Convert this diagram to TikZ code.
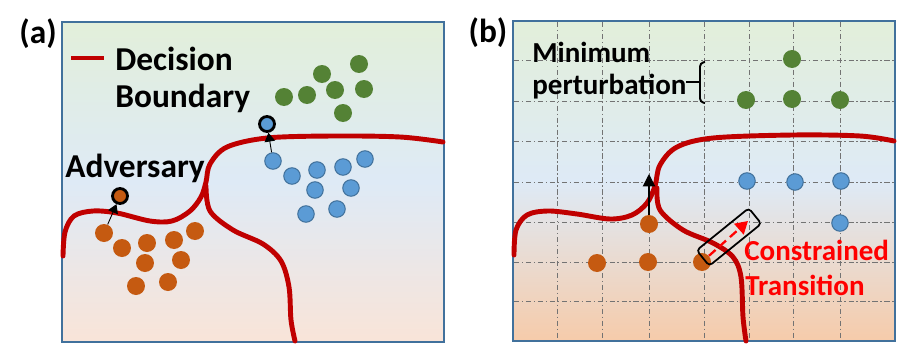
\documentclass[tikz,border=0pt]{standalone}
\usepackage{fontspec}
\setmainfont{Carlito}
\usetikzlibrary{arrows.meta,positioning,shapes}

\definecolor{boxblue}{HTML}{41719C}
\definecolor{bndred}{HTML}{C00000}
\definecolor{topgreen}{HTML}{E2EFDA}
\definecolor{midblue}{HTML}{DEEAF6}
\definecolor{lowpeach}{HTML}{F9E4D8}
\definecolor{loworange}{HTML}{F6CBAA}
\definecolor{dotgreen}{HTML}{548235}
\definecolor{dotblue}{HTML}{5B9BD5}
\definecolor{dotorange}{HTML}{C55A11}

\begin{document}
\begin{tikzpicture}[x=0.02cm, y=-0.02cm,
    panel/.style={draw=boxblue, line width=1.1pt, shade, top color=topgreen, bottom color=#1, middle color=midblue},
    bnd/.style={bndred, line width=2.8pt, line cap=round},
    greendot/.style={circle, fill=dotgreen, inner sep=0pt, minimum size=0.36cm},
    bluedot/.style={circle, draw=boxblue, line width=0.6pt, fill=dotblue, inner sep=0pt, minimum size=0.33cm},
    orangedot/.style={circle, fill=dotorange, inner sep=0pt, minimum size=0.36cm},
    adv/.style={circle, draw=black, line width=1.6pt, inner sep=0pt, minimum size=0.30cm},
    lbl/.style={font=\fontsize{19}{22}\selectfont\bfseries, inner sep=0pt, anchor=base west},
    note/.style={font=\fontsize{16.5}{20}\selectfont\bfseries, inner sep=0pt, anchor=base west},
    gridline/.style={black!55, line width=0.4pt, dash pattern=on 3pt off 1.5pt on 0.8pt off 1.5pt}
]
\useasboundingbox (0,0) rectangle (913,345);

% Panel (a)
\path[panel=lowpeach] (62,22) rectangle (444,342);
\node[lbl, anchor=center] (labela) at (38,34) {(a)};

% Legend
\draw[bndred, line width=2.8pt] (71,58) -- (104,58);
\node[lbl] (dec) at (115,70) {Decision};
\node[lbl] (bound) at (115,107) {Boundary};

% Decision boundary (a)
\draw[bnd] plot[smooth, tension=0.55] coordinates {(63,256) (65,232) (74,216) (93,211) (117,213) (150,221) (172,221) (190,211) (201,197) (206,182) (210,164) (227,147) (267,138) (333,136) (400,137) (443,142)};
\draw[bnd] plot[smooth, tension=0.55] coordinates {(206,186) (210,211) (233,230) (263,244) (281,261) (289,287) (291,320) (295,341)};

% Green class (a)
\node[greendot] (ga1) at (284,97) {};
\node[greendot] (ga2) at (307,95) {};
\node[greendot] (ga3) at (322,74) {};
\node[greendot] (ga4) at (335,90) {};
\node[greendot] (ga5) at (359,64) {};
\node[greendot] (ga6) at (364,89) {};
\node[greendot] (ga7) at (343,113) {};

% Blue class (a)
\node[bluedot] (ba1) at (273,161) {};
\node[bluedot] (ba2) at (292,176) {};
\node[bluedot] (ba3) at (317,170) {};
\node[bluedot] (ba4) at (343,167) {};
\node[bluedot] (ba5) at (365,159) {};
\node[bluedot] (ba6) at (315,190) {};
\node[bluedot] (ba7) at (351,188) {};
\node[bluedot] (ba8) at (306,214) {};
\node[bluedot] (ba9) at (337,209) {};

% Orange class (a)
\node[orangedot] (oa1) at (104,233) {};
\node[orangedot] (oa2) at (122,248) {};
\node[orangedot] (oa3) at (147,243) {};
\node[orangedot] (oa4) at (174,240) {};
\node[orangedot] (oa5) at (195,231) {};
\node[orangedot] (oa6) at (145,263) {};
\node[orangedot] (oa7) at (181,260) {};
\node[orangedot] (oa8) at (136,286) {};
\node[orangedot] (oa9) at (168,282) {};

% Adversarial examples
\node[adv, fill=dotblue] (advb) at (267,124) {};
\node[adv, fill=dotorange] (advo) at (120,196) {};
\draw[-{Triangle[width=6pt,length=5pt]}, line width=0.5pt] (ba1) -- (advb);
\draw[-{Triangle[width=6pt,length=5pt]}, line width=0.5pt] (oa1) -- (advo);
\node[lbl] (advtext) at (65,177) {Adversary};

% Panel (b)
\path[panel=loworange] (513,21) rectangle (895,341);
\node[lbl, anchor=center] (labelb) at (488,33) {(b)};

% Grid
\foreach \gx in {557,602,649,704,749,793,840}
    \draw[gridline] (\gx,22) -- (\gx,340);
\foreach \gy in {60,101,141,182,222,262,301}
    \draw[gridline] (514,\gy) -- (894,\gy);
\draw[boxblue, line width=1.1pt] (513,21) rectangle (895,341);

% Decision boundary (b)
\draw[bnd] plot[smooth, tension=0.55] coordinates {(514,255) (516,230) (527,215) (548,211) (577,214) (610,219) (632,215) (647,203) (655,186) (660,165) (677,147) (713,138) (793,135) (860,136) (894,141)};
\draw[bnd] plot[smooth, tension=0.55] coordinates {(657,188) (660,210) (683,230) (713,243) (733,257) (741,277) (743,317) (746,341)};

% Green class (b)
\node[greendot] (gb1) at (792,59) {};
\node[greendot] (gb2) at (746,100) {};
\node[greendot] (gb3) at (792,99) {};
\node[greendot] (gb4) at (840,100) {};

% Blue class (b)
\node[bluedot] (bb1) at (747,181) {};
\node[bluedot] (bb2) at (795,182) {};
\node[bluedot] (bb3) at (841,181) {};
\node[bluedot] (bb4) at (840,223) {};

% Orange class (b)
\node[orangedot] (ob1) at (649,224) {};
\node[orangedot] (ob2) at (597,263) {};
\node[orangedot] (ob3) at (648,262) {};
\node[orangedot] (ob4) at (702,262) {};

% Perturbation steps
\coordinate (up) at (649,174);
\draw[-{Triangle[width=7pt,length=7pt]}, line width=0.6pt] (ob1) -- (up);
\node[draw, line width=1pt, rounded corners=2pt, minimum width=1.34cm, minimum height=0.40cm, rotate=39] (window) at (729,237) {};
\coordinate (step1) at (748,221);
\draw[red, line width=1.3pt, dash pattern=on 5pt off 3pt, -{Triangle[width=8pt,length=7pt]}] (ob4) -- (step1);

% Annotations
\node[note] (mintext) at (532,62) {Minimum};
\node[note] (perttext) at (532,94) {perturbation};
\draw[line width=1.1pt] (686,82) -- (700,82);
\draw[line width=1.1pt, rounded corners=2pt] (705,62) -- (700,63) -- (700,102) -- (705,103);
\node[note, text=red] (context) at (744,260) {Constrained};
\node[note, text=red] (transtext) at (745,295) {Transition};

\end{tikzpicture}
\end{document}
